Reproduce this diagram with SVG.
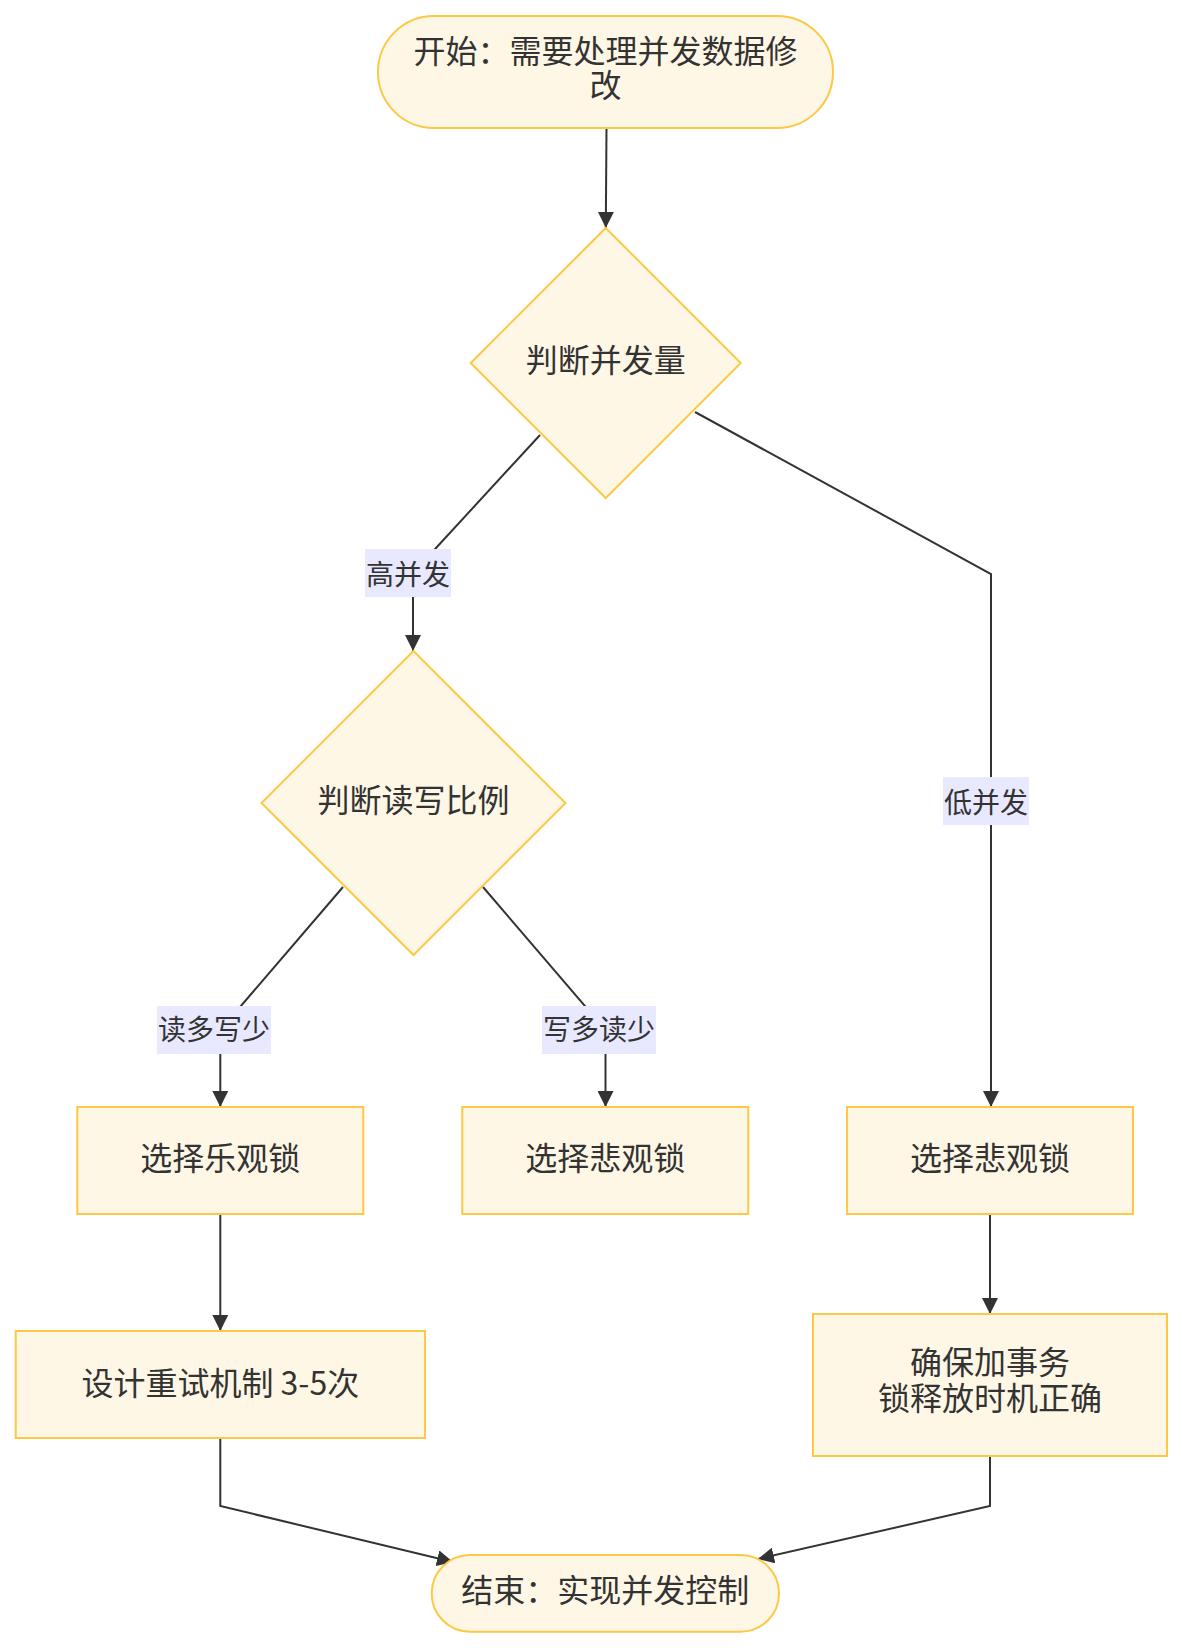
<svg xmlns="http://www.w3.org/2000/svg" width="1182" height="1648" viewBox="0 0 1182 1648">
  <defs>
    <marker id="arrow" viewBox="0 0 12 12" refX="12" refY="6" markerWidth="16" markerHeight="16" markerUnits="userSpaceOnUse" orient="auto">
      <path d="M0,0 L12,6 L0,12 z" fill="#333333"/>
    </marker>
    <style>
      .node { fill: #fff7e5; stroke: #fcc845; stroke-width: 2; }
      .t { font-family: "Noto Sans CJK SC", "Noto Sans", sans-serif; fill: #333333; text-anchor: middle; font-size: 32px; }
      .lt { font-family: "Noto Sans CJK SC", "Noto Sans", sans-serif; fill: #333333; text-anchor: middle; font-size: 28px; }
      .lbg { fill: #e8e8ff; stroke: none; }
      .edge { fill: none; stroke: #333333; stroke-width: 2; marker-end: url(#arrow); }
    </style>
  </defs>
  <rect width="1182" height="1648" fill="#ffffff"/>

  <g id="connectors">
    <path class="edge" d="M606.5,128 L605.8,228"/>
    <path class="edge" d="M540,435 L413,573 L413,651"/>
    <path class="edge" d="M695,412 L991,574 L991,1107"/>
    <path class="edge" d="M343,887 L220.3,1030 L220.3,1107"/>
    <path class="edge" d="M483,887 L605.5,1030 L605.5,1107"/>
    <path class="edge" d="M220.3,1214 L220.3,1331"/>
    <path class="edge" d="M990,1214 L990,1314"/>
    <path class="edge" d="M220.3,1438 L220.3,1506 L453,1562"/>
    <path class="edge" d="M990,1456 L990,1506 L758,1559"/>
    <g id="edge-labels">
      <rect class="lbg" x="365" y="549" width="86" height="48"/>
      <text class="lt" x="408" y="584.5">高并发</text>
      <rect class="lbg" x="943" y="777" width="86" height="48"/>
      <text class="lt" x="986" y="812.5">低并发</text>
      <rect class="lbg" x="157" y="1006" width="114" height="48"/>
      <text class="lt" x="214" y="1039.5">读多写少</text>
      <rect class="lbg" x="542" y="1006" width="114" height="48"/>
      <text class="lt" x="599" y="1039.5">写多读少</text>
    </g>
  </g>

  <g id="start">
    <rect class="node" x="378" y="16" width="455" height="112" rx="56" ry="56"/>
    <text class="t" x="605.5" y="63">开始：需要处理并发数据修</text>
    <text class="t" x="605.5" y="97">改</text>
  </g>

  <g id="decision-concurrency">
    <polygon class="node" points="605.7,228 740.7,363 605.7,498 470.7,363"/>
    <text class="t" x="605.7" y="372">判断并发量</text>
  </g>

  <g id="decision-ratio">
    <polygon class="node" points="413.5,651 565.5,803 413.5,955 261.5,803"/>
    <text class="t" x="413.5" y="812">判断读写比例</text>
  </g>

  <g id="optimistic">
    <rect class="node" x="77.3" y="1107" width="286" height="107"/>
    <text class="t" x="220.3" y="1169.5">选择乐观锁</text>
  </g>

  <g id="pessimistic-mid">
    <rect class="node" x="462.3" y="1107" width="286" height="107"/>
    <text class="t" x="605.3" y="1169.5">选择悲观锁</text>
  </g>

  <g id="pessimistic-right">
    <rect class="node" x="847" y="1107" width="286" height="107"/>
    <text class="t" x="990" y="1169.5">选择悲观锁</text>
  </g>

  <g id="retry">
    <rect class="node" x="15.7" y="1331" width="409.3" height="107"/>
    <text class="t" x="220.3" y="1394.5">设计重试机制 3-5次</text>
  </g>

  <g id="transaction">
    <rect class="node" x="813" y="1314" width="354" height="142"/>
    <text class="t" x="990" y="1374">确保加事务</text>
    <text class="t" x="990" y="1410">锁释放时机正确</text>
  </g>

  <g id="end">
    <rect class="node" x="431.7" y="1555" width="347.3" height="76.7" rx="38.3" ry="38.3"/>
    <text class="t" x="605.3" y="1602">结束：实现并发控制</text>
  </g>
</svg>
